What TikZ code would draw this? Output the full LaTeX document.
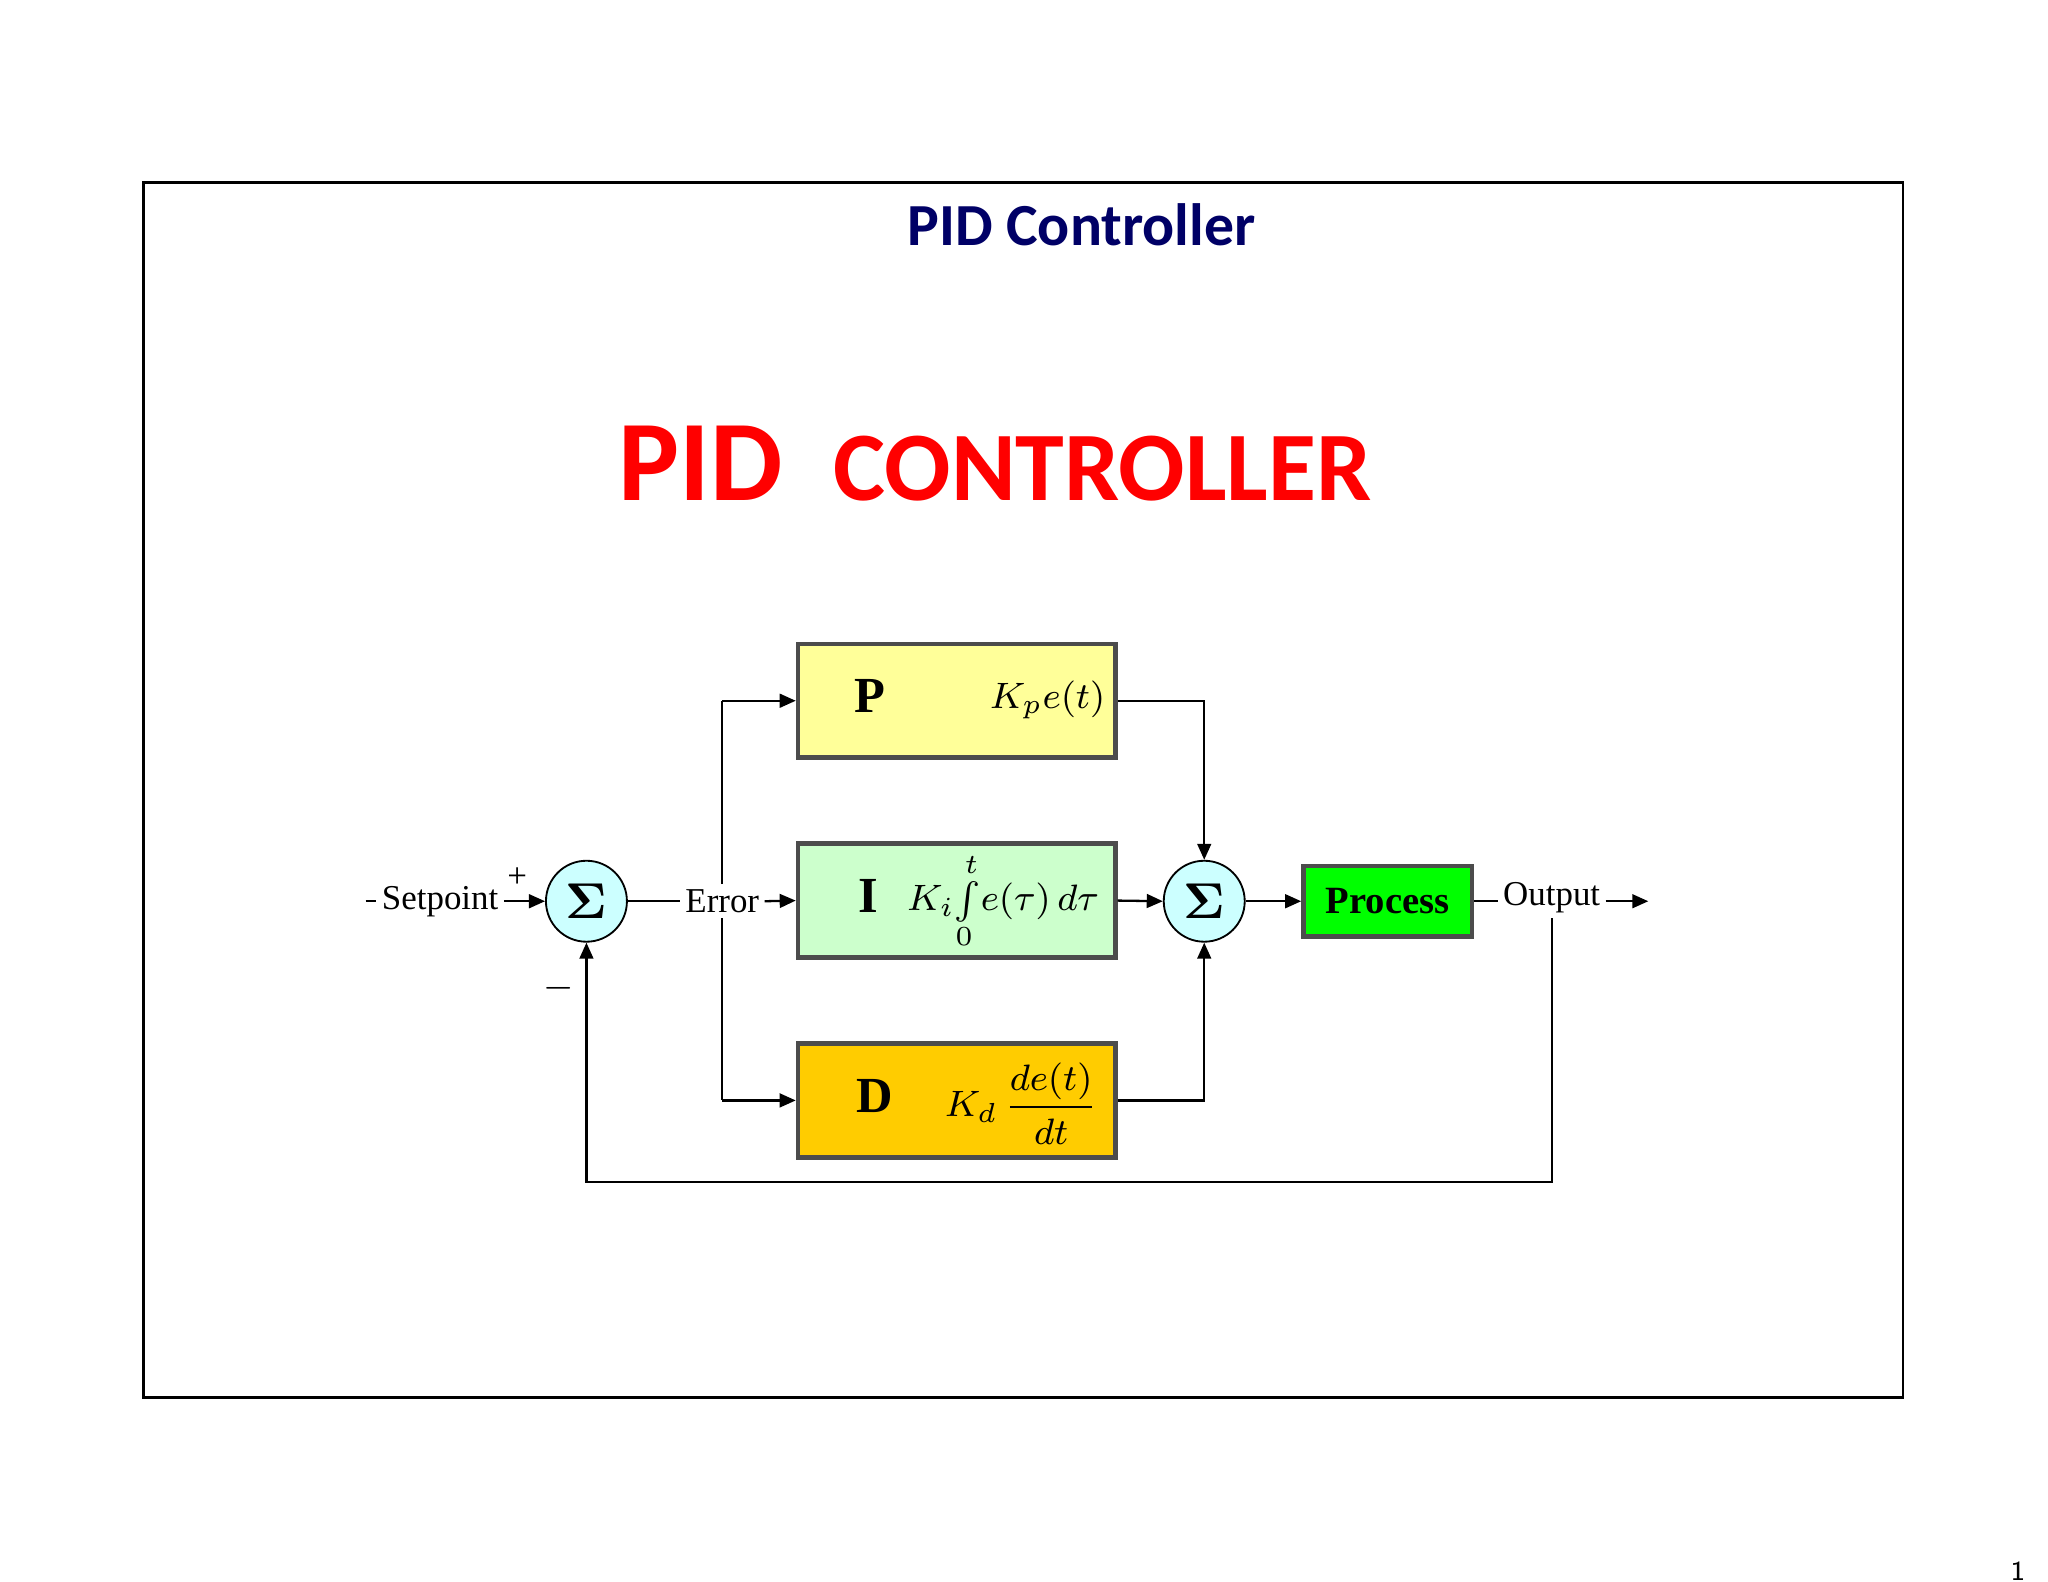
\documentclass[tikz,border=0pt]{standalone}
\usepackage{amsmath}
\usepackage{fontspec}
\setmainfont{Liberation Serif}
\newfontfamily\carl{Carlito}
\usetikzlibrary{arrows.meta}
\definecolor{navy}{RGB}{0,0,102}
\definecolor{pY}{RGB}{255,255,153}
\definecolor{pG}{RGB}{204,255,204}
\definecolor{pO}{RGB}{255,204,0}
\definecolor{pC}{RGB}{204,255,255}
\begin{document}
\begin{tikzpicture}[x=0.01cm,y=-0.01cm,
  sum/.style={circle,draw=black,fill=pC,minimum size=62*0.01cm,inner sep=0,font=\fontsize{11}{11}\selectfont\bfseries},
  ar/.style={-{Triangle[length=3.5pt,width=3pt]},line width=0.5pt},
  ln/.style={line width=0.5pt},
  lab/.style={font=\fontsize{7.6}{8}\selectfont,inner sep=1pt}]
\useasboundingbox (0,0) rectangle (1568,1211);
\draw[line width=0.6pt] (110,140) rectangle (1457,1070);
\node[font=\carl\bfseries\fontsize{13}{13}\selectfont,text=navy] (title) at (828,172) {PID Controller};
\node[font=\carl\bfseries,text=red,anchor=base] (big) at (762,383) {{\fontsize{25}{26}\selectfont PID}\hspace{11pt}{\fontsize{21.4}{22}\selectfont CONTROLLER}};
% boxes
\node[draw=black!70,line width=1pt,fill=pY,minimum width=243*0.01cm,minimum height=87*0.01cm] (P) at (732.5,536.5) {};
\node[draw=black!70,line width=1pt,fill=pG,minimum width=243*0.01cm,minimum height=87*0.01cm] (I) at (732.5,689.5) {};
\node[draw=black!70,line width=1pt,fill=pO,minimum width=243*0.01cm,minimum height=87*0.01cm] (D) at (732.5,842.5) {};
\node[font=\fontsize{11}{11}\selectfont\bfseries] (Pl) at (666,533) {P};
\node[font=\fontsize{11}{11}\selectfont\bfseries] (Il) at (665,686) {I};
\node[font=\fontsize{11}{11}\selectfont\bfseries] (Dl) at (670,839) {D};
\node[font=\fontsize{8}{9}\selectfont] (Pm) at (802,536) {$K_p e(t)$};
\node[font=\fontsize{8}{9}\selectfont,inner sep=0] (Im) at (768,690) {$K_i\!\int\limits_0^t\! e(\tau)\,d\tau$};
\node[font=\fontsize{8}{9}\selectfont] (Dm) at (782,845) {$K_d\,\dfrac{de(t)}{dt}$};
\node[sum] (s1) at (449,690) {$\boldsymbol{\Sigma}$};
\node[sum] (s2) at (922,690) {$\boldsymbol{\Sigma}$};
\node[draw=black!70,line width=1pt,fill=green,minimum width=129*0.01cm,minimum height=54*0.01cm,font=\fontsize{8.4}{9}\selectfont\bfseries] (proc) at (1062.5,690) {Process};
% setpoint
\coordinate (in) at (280,690);
\node[lab] (sp) at (337,690) {Setpoint};
\draw[ln] (in) -- (sp.west);
\draw[ar] (sp.east) -- (s1.west);
\node[lab] (plus) at (396,672) {+};
\node[lab] (minus) at (428,757) {$-$};
% error
\node[lab] (err) at (553,690) {Error};
\draw[ln] (s1.east) -- (err.west);
\draw[ar] (err.east) -- (I.west);
\coordinate (j1) at (553,536.5);
\coordinate (j2) at (553,842.5);
\draw[ln] (err.north) -- (j1);
\draw[ln] (err.south) -- (j2);
\draw[ar] (j1) -- (P.west);
\draw[ar] (j2) -- (D.west);
% outputs to sum2
\draw[ar] (P.east) -| (s2.north);
\draw[ar] (D.east) -| (s2.south);
\draw[ar] (I.east) -- (s2.west);
\draw[ar] (s2.east) -- (proc.west);
% output
\node[lab] (out) at (1188,687) {Output};
\coordinate (oe) at (1262,690);
\draw[ln] (proc.east) -- (out.west|-proc.east);
\draw[ar] (out.east|-proc.east) -- (oe);
\coordinate (f1) at (1188,905);
\draw[ar] (out.south) -- (f1) -| (s1.south);
\node[font=\fontsize{6}{6}\selectfont\sffamily] (pg) at (1545,1203) {1};
\end{tikzpicture}
\end{document}
